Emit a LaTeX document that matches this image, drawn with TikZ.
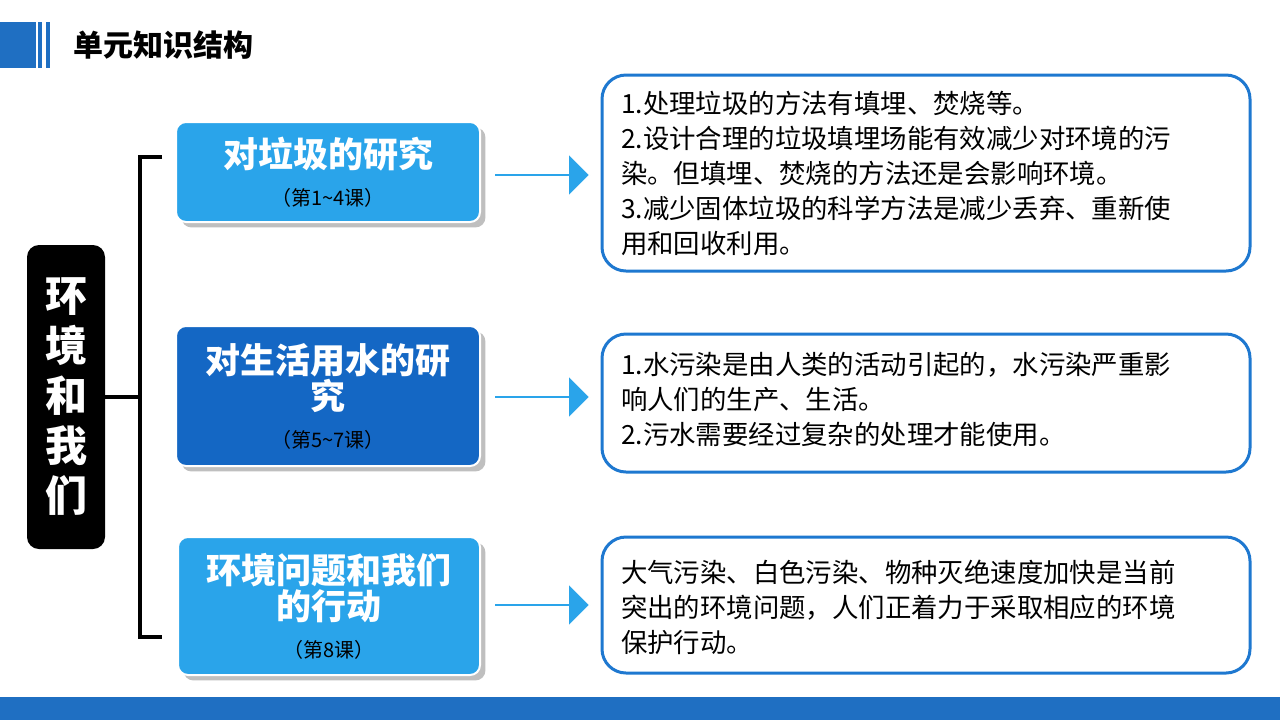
\documentclass[tikz,border=0pt]{standalone}
\usepackage{fontspec}
\setmainfont{Noto Sans CJK SC}
\usetikzlibrary{shapes.arrows}
\definecolor{lblue}{HTML}{2AA4EA}
\definecolor{dblue}{HTML}{1467C4}
\definecolor{bandblue}{HTML}{1F6FC2}
\definecolor{bord}{HTML}{1E78D0}
\tikzset{
 lbox/.style={draw=white,line width=1pt,rounded corners=5pt,text=white,align=center,font=\bfseries\fontsize{17.5}{21}\selectfont,drop shadow},
 rbox/.style={draw=bord,line width=1.5pt,rounded corners=12pt,fill=white},
 rtext/.style={anchor=north west,align=left,font=\fontsize{13.2}{17.5}\selectfont},
 sub/.style={font=\fontsize{10}{12}\selectfont,text=black},
 barr/.style={single arrow,fill=lblue,draw=white,line width=0.8pt,minimum width=22pt,single arrow head extend=4pt,minimum height=48pt,inner sep=0pt},
 brace/.style={line width=1.6pt}
}
\usetikzlibrary{shadows}
\begin{document}
\begin{tikzpicture}[x=0.5pt,y=-0.5pt]
\useasboundingbox (0,0) rectangle (1280,720);
\fill[white] (0,0) rectangle (1280,720);
% header
\fill[bandblue] (0,22) rectangle (36,68);
\fill[bandblue] (38,22) rectangle (42,68);
\fill[bandblue] (46,22) rectangle (50,68);
\node[anchor=west,font=\bfseries\fontsize{15}{18}\selectfont] (title) at (66,45) {单元知识结构};
\fill[bandblue] (0,697) rectangle (1280,720);
% left black box
\node[fill=black,rounded corners=6pt,minimum width=39pt,minimum height=152pt,text=white,align=center,font=\bfseries\fontsize{21}{25}\selectfont] (main) at (66,397) {环\\境\\和\\我\\们};
% brace
\coordinate (bm) at (140,397);
\coordinate (bt) at (140,157);
\coordinate (bb) at (140,637);
\draw[brace] (main.east) -- (bm);
\draw[brace] (162,157) -- (bt) -- (bb) -- (162,637);
% left boxes
\node[lbox,fill=lblue,minimum width=152pt,minimum height=50pt] (b1) at (328,172) {对垃圾的研究\\[-2pt]{\mdseries\fontsize{10}{12}\selectfont\color{black}（第1\textasciitilde4课）}};
\node[lbox,fill=dblue,minimum width=152pt,minimum height=70pt] (b2) at (328,396) {对生活用水的研\\[-3pt]究\\[-2pt]{\mdseries\fontsize{10}{12}\selectfont\color{black}（第5\textasciitilde7课）}};
\node[lbox,fill=lblue,minimum width=151pt,minimum height=69pt] (b3) at (329,606) {环境问题和我们\\[-3pt]的行动\\[-2pt]{\mdseries\fontsize{10}{12}\selectfont\color{black}（第8课）}};
% arrows
\node[barr] (a1) at (541,175) {};
\node[barr] (a2) at (541,397) {};
\node[barr] (a3) at (541,605) {};
% right boxes
\draw[rbox] (602,75) rectangle (1250,271);
\draw[rbox] (602,334) rectangle (1250,472);
\draw[rbox] (602,537) rectangle (1250,673);
\node[rtext] (t1) at (614,84) {1.处理垃圾的方法有填埋、焚烧等。\\2.设计合理的垃圾填埋场能有效减少对环境的污\\染。但填埋、焚烧的方法还是会影响环境。\\3.减少固体垃圾的科学方法是减少丢弃、重新使\\用和回收利用。};
\node[rtext] (t2) at (614,345) {1.水污染是由人类的活动引起的，水污染严重影\\响人们的生产、生活。\\2.污水需要经过复杂的处理才能使用。};
\node[rtext] (t3) at (614,553) {大气污染、白色污染、物种灭绝速度加快是当前\\突出的环境问题，人们正着力于采取相应的环境\\保护行动。};
\end{tikzpicture}
\end{document}
